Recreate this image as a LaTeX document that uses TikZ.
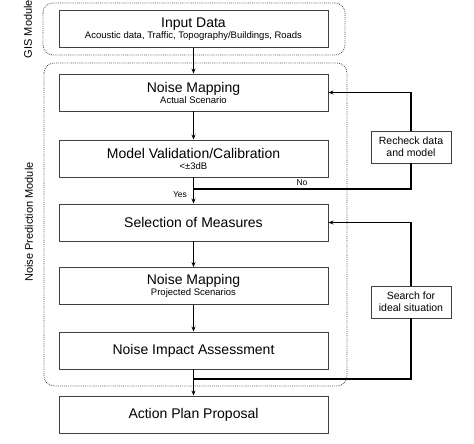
\documentclass[tikz,border=0pt]{standalone}
\usepackage{fontspec}
\setmainfont{Liberation Sans}
\usetikzlibrary{arrows.meta}
\begin{document}
\begin{tikzpicture}[x=1pt,y=-1pt,
  box/.style={draw=black!75,line width=0.9pt,fill=white,minimum width=269pt,minimum height=37pt,inner sep=0pt,align=center},
  sbox/.style={draw=black!75,line width=0.9pt,fill=white,minimum width=80pt,minimum height=32pt,inner sep=0pt,align=center,font=\fontsize{10.5}{12}\selectfont},
  module/.style={draw=black!70,dash pattern=on 0.8pt off 1.1pt,line width=0.8pt,rounded corners=10pt},
  arr/.style={line width=1.1pt,-{Stealth[length=5pt,width=4pt]}},
  ln/.style={line width=1.1pt},
  ttl/.style={font=\fontsize{14}{16}\selectfont},
  lab/.style={font=\fontsize{8.5}{10}\selectfont}]
\useasboundingbox (0,0) rectangle (474,444);
\fill[white] (0,0) rectangle (474,444);
% module frames
\draw[module] (43,3) rectangle (345,55);
\draw[module] (44,63) rectangle (347,386);
\node[rotate=90,font=\fontsize{11}{13}\selectfont] (gislab) at (28,29) {GIS Module};
\node[rotate=90,font=\fontsize{11}{13}\selectfont] (nplab) at (29,222) {Noise Prediction Module};
% main boxes
\node[box] (input) at (193.5,29) {{\fontsize{14}{16}\selectfont Input Data}\\[-1pt]{\fontsize{9.5}{11}\selectfont Acoustic data, Traffic, Topography/Buildings, Roads}};
\node[box] (nm1) at (193.5,92.5) {{\fontsize{14}{16}\selectfont Noise Mapping}\\[-1pt]{\fontsize{9.5}{11}\selectfont Actual Scenario}};
\node[box] (mv) at (193.5,158.5) {{\fontsize{14}{16}\selectfont Model Validation/Calibration}\\[-1pt]{\fontsize{9.5}{11}\selectfont <\textpm3dB}};
\node[box,ttl] (sel) at (193.5,222.5) {Selection of Measures};
\node[box] (nm2) at (193.5,286) {{\fontsize{14}{16}\selectfont Noise Mapping}\\[-1pt]{\fontsize{9.5}{11}\selectfont Projected Scenarios}};
\node[box,ttl] (nia) at (193.5,350.5) {Noise Impact Assessment};
\node[box,ttl] (act) at (193.5,414.5) {Action Plan Proposal};
% side boxes
\node[sbox] (rech) at (411,147) {Recheck data\\and model};
\node[sbox] (srch) at (411,302) {Search for\\ideal situation};
% junctions
\coordinate (j1) at (193.5,189);
\coordinate (j2) at (193.5,379);
% main arrows
\draw[arr] (input) -- (nm1);
\draw[arr] (nm1) -- (mv);
\draw[ln] (mv) -- (j1);
\draw[arr] (j1) -- (sel);
\draw[arr] (sel) -- (nm2);
\draw[arr] (nm2) -- (nia);
\draw[ln] (nia) -- (j2);
\draw[arr] (j2) -- (act);
% feedback loops
\draw[ln] (rech.south) |- (j1);
\draw[arr] (rech.north) |- (nm1.east);
\draw[ln] (srch.south) |- (j2);
\draw[arr] (srch.north) |- (sel.east);
% labels
\node[lab] (yes) at (180,195) {Yes};
\node[lab] (no) at (302,183) {No};
\end{tikzpicture}
\end{document}
